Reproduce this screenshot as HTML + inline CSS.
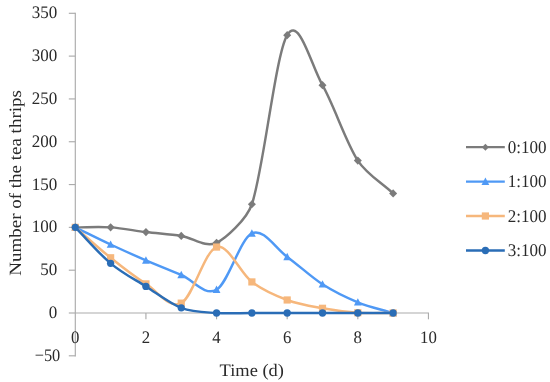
<!DOCTYPE html>
<html><head><meta charset="utf-8"><title>Chart</title>
<style>html,body{margin:0;padding:0;background:#fff}svg{display:block}</style></head>
<body>
<svg width="550" height="382" viewBox="0 0 550 382">
<rect width="550" height="382" fill="#fff"/>
<g stroke="#ababab" stroke-width="1.15" fill="none">
<path d="M75.30 12.72 V356.39"/>
<path d="M75.30 313.00 H429.02"/>
<path d="M68.80 355.81 H75.30"/>
<path d="M68.80 313.00 H75.30"/>
<path d="M68.80 270.19 H75.30"/>
<path d="M68.80 227.37 H75.30"/>
<path d="M68.80 184.56 H75.30"/>
<path d="M68.80 141.74 H75.30"/>
<path d="M68.80 98.93 H75.30"/>
<path d="M68.80 56.11 H75.30"/>
<path d="M68.80 13.30 H75.30"/>
<path d="M145.93 313.00 V319.30"/>
<path d="M216.56 313.00 V319.30"/>
<path d="M287.19 313.00 V319.30"/>
<path d="M357.82 313.00 V319.30"/>
<path d="M428.45 313.00 V319.30"/>
</g>
<g font-family="'Liberation Serif', serif" font-size="17.6" text-rendering="geometricPrecision" fill="#2a2a2a">
<text x="60.3" y="360.92" text-anchor="end" textLength="25.60" lengthAdjust="spacingAndGlyphs">−50</text>
<text x="57.3" y="318.10" text-anchor="end" textLength="8.50" lengthAdjust="spacingAndGlyphs">0</text>
<text x="57.3" y="275.29" text-anchor="end" textLength="17.00" lengthAdjust="spacingAndGlyphs">50</text>
<text x="57.3" y="232.47" text-anchor="end" textLength="25.50" lengthAdjust="spacingAndGlyphs">100</text>
<text x="57.3" y="189.66" text-anchor="end" textLength="25.50" lengthAdjust="spacingAndGlyphs">150</text>
<text x="57.3" y="146.84" text-anchor="end" textLength="25.50" lengthAdjust="spacingAndGlyphs">200</text>
<text x="57.3" y="104.03" text-anchor="end" textLength="25.50" lengthAdjust="spacingAndGlyphs">250</text>
<text x="57.3" y="61.21" text-anchor="end" textLength="25.50" lengthAdjust="spacingAndGlyphs">300</text>
<text x="57.3" y="18.40" text-anchor="end" textLength="25.50" lengthAdjust="spacingAndGlyphs">350</text>
<text x="75.30" y="343.1" text-anchor="middle" textLength="8.40" lengthAdjust="spacingAndGlyphs">0</text>
<text x="145.93" y="343.1" text-anchor="middle" textLength="8.40" lengthAdjust="spacingAndGlyphs">2</text>
<text x="216.56" y="343.1" text-anchor="middle" textLength="8.40" lengthAdjust="spacingAndGlyphs">4</text>
<text x="287.19" y="343.1" text-anchor="middle" textLength="8.40" lengthAdjust="spacingAndGlyphs">6</text>
<text x="357.82" y="343.1" text-anchor="middle" textLength="8.40" lengthAdjust="spacingAndGlyphs">8</text>
<text x="428.45" y="343.1" text-anchor="middle" textLength="16.80" lengthAdjust="spacingAndGlyphs">10</text>
<text x="251.8" y="376.2" text-anchor="middle" textLength="64.4" lengthAdjust="spacingAndGlyphs">Time (d)</text>
<text transform="translate(20.8 182.9) rotate(-90)" font-size="17.2" text-anchor="middle" textLength="185.5" lengthAdjust="spacingAndGlyphs">Number of the tea thrips</text>
<text x="507.8" y="152.70" font-size="17.9" textLength="38.8" lengthAdjust="spacingAndGlyphs">0:100</text>
<text x="507.8" y="187.10" font-size="17.9" textLength="38.8" lengthAdjust="spacingAndGlyphs">1:100</text>
<text x="507.8" y="221.50" font-size="17.9" textLength="38.8" lengthAdjust="spacingAndGlyphs">2:100</text>
<text x="507.8" y="256.00" font-size="17.9" textLength="38.8" lengthAdjust="spacingAndGlyphs">3:100</text>
</g>
<path d="M75.30 227.37 C87.07 227.37 98.84 226.59 110.61 227.37 C122.39 228.15 134.16 230.65 145.93 232.08 C157.70 233.51 169.47 234.15 181.25 235.93 C193.02 237.72 204.79 248.06 216.56 242.78 C224.89 239.04 246.58 219.82 251.88 204.25 C263.65 169.64 275.42 54.97 287.19 35.13 C298.96 15.29 310.73 64.32 322.50 85.22 C334.28 106.13 346.05 142.54 357.82 160.58 C366.65 174.11 381.36 182.50 393.13 193.46" fill="none" stroke="#7b7b7b" stroke-width="2.45" stroke-linecap="round" stroke-linejoin="round"/>
<path d="M75.30 223.27 l4.00 4.10 l-4.00 4.10 l-4.00 -4.10 z" fill="#7b7b7b"/>
<path d="M110.61 223.27 l4.00 4.10 l-4.00 4.10 l-4.00 -4.10 z" fill="#7b7b7b"/>
<path d="M145.93 227.98 l4.00 4.10 l-4.00 4.10 l-4.00 -4.10 z" fill="#7b7b7b"/>
<path d="M181.25 231.83 l4.00 4.10 l-4.00 4.10 l-4.00 -4.10 z" fill="#7b7b7b"/>
<path d="M216.56 238.68 l4.00 4.10 l-4.00 4.10 l-4.00 -4.10 z" fill="#7b7b7b"/>
<path d="M251.88 200.15 l4.00 4.10 l-4.00 4.10 l-4.00 -4.10 z" fill="#7b7b7b"/>
<path d="M287.19 31.03 l4.00 4.10 l-4.00 4.10 l-4.00 -4.10 z" fill="#7b7b7b"/>
<path d="M322.50 81.12 l4.00 4.10 l-4.00 4.10 l-4.00 -4.10 z" fill="#7b7b7b"/>
<path d="M357.82 156.48 l4.00 4.10 l-4.00 4.10 l-4.00 -4.10 z" fill="#7b7b7b"/>
<path d="M393.13 189.36 l4.00 4.10 l-4.00 4.10 l-4.00 -4.10 z" fill="#7b7b7b"/>
<path d="M75.30 227.37 C87.07 233.08 98.84 239.00 110.61 244.50 C122.39 249.99 134.16 255.27 145.93 260.34 C157.70 265.40 169.47 270.00 181.25 274.89 C193.02 279.79 204.79 296.63 216.56 289.71 C228.33 282.79 240.10 238.83 251.88 233.36 C263.65 227.90 275.42 248.42 287.19 256.91 C298.96 265.40 310.73 276.75 322.50 284.31 C334.28 291.88 346.05 297.52 357.82 302.30 C369.59 307.08 381.36 309.43 393.13 313.00" fill="none" stroke="#4f99f5" stroke-width="2.45" stroke-linecap="round" stroke-linejoin="round"/>
<path d="M75.30 223.27 L79.20 230.67 L71.40 230.67 z" fill="#4f99f5"/>
<path d="M110.61 240.40 L114.52 247.80 L106.71 247.80 z" fill="#4f99f5"/>
<path d="M145.93 256.24 L149.83 263.64 L142.03 263.64 z" fill="#4f99f5"/>
<path d="M181.25 270.79 L185.15 278.19 L177.34 278.19 z" fill="#4f99f5"/>
<path d="M216.56 285.61 L220.46 293.01 L212.66 293.01 z" fill="#4f99f5"/>
<path d="M251.88 229.26 L255.78 236.66 L247.97 236.66 z" fill="#4f99f5"/>
<path d="M287.19 252.81 L291.09 260.21 L283.29 260.21 z" fill="#4f99f5"/>
<path d="M322.50 280.21 L326.40 287.61 L318.61 287.61 z" fill="#4f99f5"/>
<path d="M357.82 298.20 L361.72 305.60 L353.92 305.60 z" fill="#4f99f5"/>
<path d="M393.13 308.90 L397.03 316.30 L389.24 316.30 z" fill="#4f99f5"/>
<path d="M75.30 227.37 C87.07 237.50 98.84 248.35 110.61 257.77 C122.39 267.19 134.16 276.32 145.93 283.89 C157.70 291.45 169.47 309.29 181.25 303.15 C193.02 297.02 204.79 250.60 216.56 247.06 C228.33 243.53 240.10 273.10 251.88 281.92 C263.65 290.74 275.42 295.59 287.19 299.98 C298.96 304.38 310.73 306.16 322.50 308.29 C334.28 310.42 346.05 311.96 357.82 312.74 C369.59 313.53 381.36 312.91 393.13 313.00" fill="none" stroke="#f6b77c" stroke-width="2.45" stroke-linecap="round" stroke-linejoin="round"/>
<rect x="71.70" y="223.77" width="7.20" height="7.20" fill="#f6b77c"/>
<rect x="107.02" y="254.17" width="7.20" height="7.20" fill="#f6b77c"/>
<rect x="142.33" y="280.29" width="7.20" height="7.20" fill="#f6b77c"/>
<rect x="177.65" y="299.55" width="7.20" height="7.20" fill="#f6b77c"/>
<rect x="212.96" y="243.46" width="7.20" height="7.20" fill="#f6b77c"/>
<rect x="248.28" y="278.32" width="7.20" height="7.20" fill="#f6b77c"/>
<rect x="283.59" y="296.38" width="7.20" height="7.20" fill="#f6b77c"/>
<rect x="318.90" y="304.69" width="7.20" height="7.20" fill="#f6b77c"/>
<rect x="354.22" y="309.14" width="7.20" height="7.20" fill="#f6b77c"/>
<rect x="389.53" y="309.40" width="7.20" height="7.20" fill="#f6b77c"/>
<path d="M75.30 227.37 C87.07 239.36 98.84 253.49 110.61 263.33 C122.39 273.18 134.16 279.03 145.93 286.45 C157.70 293.88 169.47 303.44 181.25 307.86 C193.02 312.29 204.79 312.14 216.56 313.00 C228.33 313.86 240.10 313.00 251.88 313.00 C263.65 313.00 275.42 313.00 287.19 313.00 C298.96 313.00 310.73 313.00 322.50 313.00 C334.28 313.00 346.05 313.00 357.82 313.00 C369.59 313.00 381.36 313.00 393.13 313.00" fill="none" stroke="#2a6db6" stroke-width="2.45" stroke-linecap="round" stroke-linejoin="round"/>
<circle cx="75.30" cy="227.37" r="3.65" fill="#2a6db6"/>
<circle cx="110.61" cy="263.33" r="3.65" fill="#2a6db6"/>
<circle cx="145.93" cy="286.45" r="3.65" fill="#2a6db6"/>
<circle cx="181.25" cy="307.86" r="3.65" fill="#2a6db6"/>
<circle cx="216.56" cy="313.00" r="3.65" fill="#2a6db6"/>
<circle cx="251.88" cy="313.00" r="3.65" fill="#2a6db6"/>
<circle cx="287.19" cy="313.00" r="3.65" fill="#2a6db6"/>
<circle cx="322.50" cy="313.00" r="3.65" fill="#2a6db6"/>
<circle cx="357.82" cy="313.00" r="3.65" fill="#2a6db6"/>
<circle cx="393.13" cy="313.00" r="3.65" fill="#2a6db6"/>
<path d="M466 147.20 H504.8" stroke="#7b7b7b" stroke-width="2.3"/>
<path d="M485.40 143.67 l3.44 3.53 l-3.44 3.53 l-3.44 -3.53 z" fill="#7b7b7b"/>
<path d="M466 181.60 H504.8" stroke="#4f99f5" stroke-width="2.3"/>
<path d="M485.40 177.50 L489.30 184.90 L481.50 184.90 z" fill="#4f99f5"/>
<path d="M466 216.00 H504.8" stroke="#f6b77c" stroke-width="2.3"/>
<rect x="481.80" y="212.40" width="7.20" height="7.20" fill="#f6b77c"/>
<path d="M466 250.50 H504.8" stroke="#2a6db6" stroke-width="2.3"/>
<circle cx="485.40" cy="250.50" r="3.65" fill="#2a6db6"/>
</svg>
</body></html>
